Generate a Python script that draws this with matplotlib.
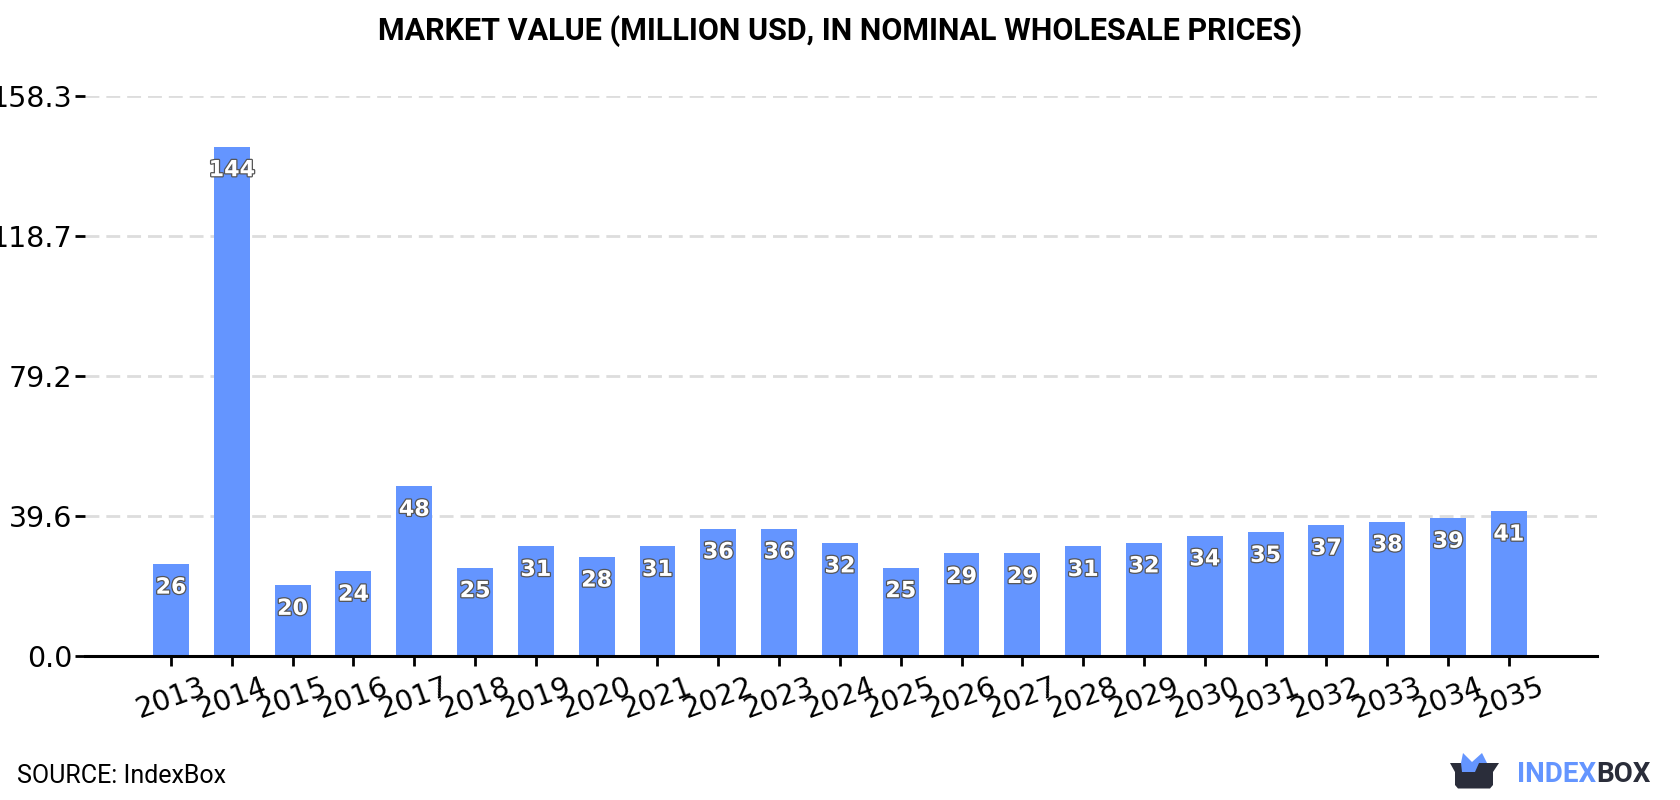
import matplotlib
matplotlib.use("Agg")
import matplotlib.pyplot as plt
import matplotlib.patheffects as pe
from matplotlib.patches import Polygon

years = list(range(2013, 2036))
market_value = [26, 144, 20, 24, 48, 25, 31, 28, 31, 36, 36, 32, 25, 29, 29, 31, 32, 34, 35, 37, 38, 39, 41]
y_ticks = [0.0, 39.6, 79.2, 118.7, 158.3]

W, H = 1680, 800
BAR = "#6495ff"
DARK = "#2a2d3a"

fig = plt.figure(figsize=(W / 100, H / 100), dpi=100, facecolor="white")
ax = fig.add_axes([85 / W, 1 - 656 / H, (1597 - 85) / W, (656 - 96) / H])

positions = list(range(len(years)))
ax.bar(positions, market_value, width=0.59, color=BAR, zorder=3)
ax.set_xlim(-1.414, 23.45)
ax.set_ylim(0, 158.3)

ax.set_yticks(y_ticks, [f"{t:.1f}" for t in y_ticks])
ax.set_xticks(positions, years, rotation=20, ha="center")
ax.tick_params(axis="y", length=7, width=2, labelsize=20.5, pad=2)
ax.tick_params(axis="x", length=7, width=2, labelsize=20.5, pad=5)
ax.yaxis.grid(True, linestyle=(0, (5, 2.5)), linewidth=2, color="#dddddd", zorder=0)
ax.set_axisbelow(True)
for side in ("top", "right", "left"):
    ax.spines[side].set_visible(False)
ax.spines["bottom"].set_linewidth(2.2)
ax.spines["bottom"].set_zorder(5)

# White value labels with a thin outline, placed just inside each bar top
for x, v in zip(positions, market_value):
    ax.annotate(
        f"{v}", (x, v), xytext=(0, -17), textcoords="offset points",
        ha="center", va="center", fontsize=16, fontweight="bold", color="white",
        zorder=6, path_effects=[pe.withStroke(linewidth=1.8, foreground="#555555")],
    )

fig.text(0.5, 1 - 31 / H, "MARKET VALUE (MILLION USD, IN NOMINAL WHOLESALE PRICES)",
         ha="center", va="center", family="Roboto", fontweight="bold", fontsize=22, color="black")
fig.text(17 / W, 1 - 776 / H, "SOURCE: IndexBox", ha="left", va="center",
         family="Roboto", fontsize=18, color="black")

# Brand mark: an open box with a blue shape rising out of it
def to_fig(pts):
    return [(x / W, 1 - y / H) for x, y in pts]

fig.add_artist(Polygon(to_fig([(1450, 763), (1499, 763), (1493, 772), (1493, 785), (1490, 788.5),
                               (1458, 788.5), (1455, 785), (1455, 772)]),
                       closed=True, facecolor=DARK, edgecolor="none", transform=fig.transFigure))
fig.add_artist(Polygon(to_fig([(1461, 763), (1463, 753), (1472, 762), (1482, 753), (1487, 763),
                               (1479, 763), (1475, 772), (1462, 772)]),
                       closed=True, facecolor=BAR, edgecolor="none", transform=fig.transFigure))

brand = dict(ha="left", va="center", family="Roboto", fontweight="bold", fontsize=20)
t1 = fig.text(1517 / W, 1 - 775 / H, "INDEX", color=BAR, **brand)
fig.canvas.draw()
bb = t1.get_window_extent()
fig.text(bb.x1 / W, 1 - 775 / H, "BOX", color=DARK, **brand)

fig.savefig("out.png", dpi=100, facecolor="white")
